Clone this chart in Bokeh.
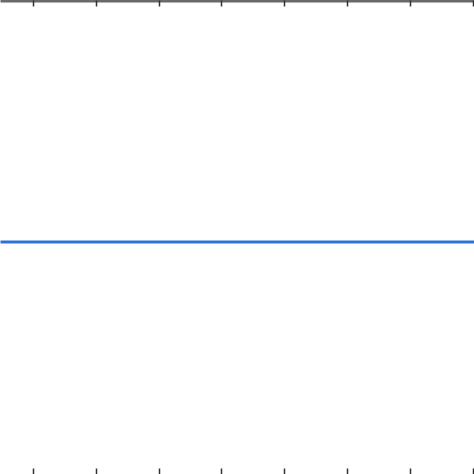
from bokeh.plotting import figure
from bokeh.models import FixedTicker, Range1d, LinearAxis
from bokeh.embed import file_html
from bokeh.resources import INLINE

# data
x_vals = [-1, 8]
y_vals = [0.0, 0.0]
tick_positions = [0, 1, 2, 3, 4, 5, 6, 7]

px_per_unit = 62.79
x_start = -33.0 / px_per_unit
x_end = x_start + 474.0 / px_per_unit

p = figure(width=474, height=474, output_backend="svg", toolbar_location=None,
           x_range=Range1d(x_start, x_end), y_range=Range1d(-0.963, 1.0),
           x_axis_location=None, y_axis_location=None, min_border=0)
p.outline_line_color = None
p.grid.visible = False
p.background_fill_color = "white"
p.border_fill_color = "white"

p.line(x_vals, y_vals, line_color="#2f72d6", line_width=3)

for loc in ("above", "below"):
    ax = LinearAxis(ticker=FixedTicker(ticks=tick_positions))
    ax.major_tick_in = 6
    ax.major_tick_out = 0
    ax.minor_tick_in = 0
    ax.minor_tick_out = 0
    ax.major_tick_line_color = "#333333"
    ax.major_tick_line_width = 1.5
    ax.major_label_text_font_size = "0px"
    ax.major_label_standoff = 0
    ax.major_label_overrides = {t: "" for t in tick_positions}
    if loc == "above":
        ax.axis_line_color = "#6a6a6a"
        ax.axis_line_width = 4
    else:
        ax.axis_line_color = None
    p.add_layout(ax, loc)

open("out.html", "w").write(file_html(p, INLINE))
